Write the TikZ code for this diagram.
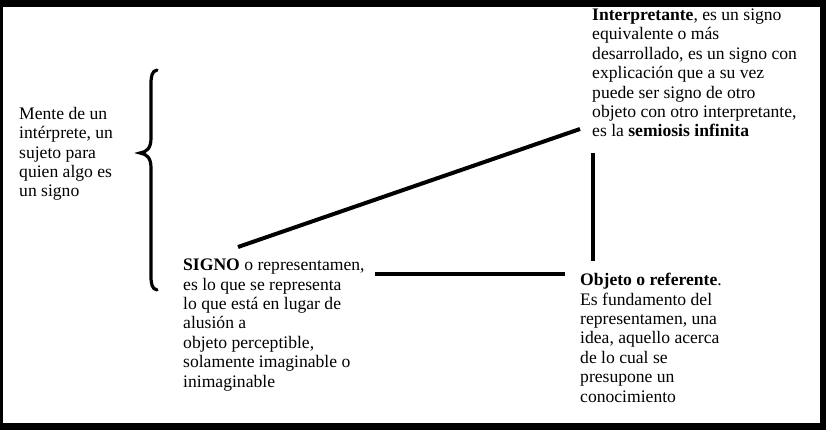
\documentclass[tikz,border=0pt]{standalone}
\usepackage{fontspec}
\setmainfont{Liberation Serif}
\begin{document}
\begin{tikzpicture}[x=1pt,y=-1pt,
  txt/.style={anchor=base west, inner sep=0pt, align=left, font=\fontsize{17.6}{19.4}\selectfont},
  conn/.style={line width=4pt},
  bracestyle/.style={line width=3.2pt, line cap=round}]
\useasboundingbox (0,0) rectangle (826,430);
\fill[black] (0,0) rectangle (826,430);
\fill[white] (3,7) rectangle (820,423);

% anchors are the baselines of the last lines
\node[txt] (mente) at (19,197) {Mente de un\\intérprete, un\\sujeto para\\quien algo es\\un signo};
\node[txt] (interp) at (592,137) {\textbf{Interpretante}, es un signo\\equivalente o más\\desarrollado, es un signo con\\explicación que a su vez\\puede ser signo de otro\\objeto con otro interpretante,\\es la \textbf{semiosis infinita}};
\node[txt] (signo) at (183,387) {\textbf{SIGNO} o representamen,\\es lo que se representa\\lo que está en lugar de\\alusión a\\objeto perceptible,\\solamente imaginable o\\inimaginable};
\node[txt] (objeto) at (580,402) {\textbf{Objeto o referente}.\\Es fundamento del\\representamen, una\\idea, aquello acerca\\de lo cual se\\presupone un\\conocimiento};

\coordinate (s1) at (238,247);
\coordinate (i1) at (580,129);
\coordinate (s2) at (375,274);
\coordinate (o1) at (565,274);
\coordinate (i2) at (593,153);
\coordinate (o2) at (593,261);
\draw[conn] (s1) -- (i1);
\draw[conn] (s2) -- (o1);
\draw[conn] (i2) -- (o2);

\coordinate (btop) at (157,70);
\coordinate (btip) at (140,153);
\coordinate (bbot) at (157,290);
\draw[bracestyle] (btop) .. controls (152,71) and (151,76) .. (151,84) -- (151,138)
  .. controls (151,148) and (147,152) .. (btip)
  .. controls (147,154) and (151,158) .. (151,168) -- (151,276)
  .. controls (151,284) and (152,289) .. (bbot);
\end{tikzpicture}
\end{document}
